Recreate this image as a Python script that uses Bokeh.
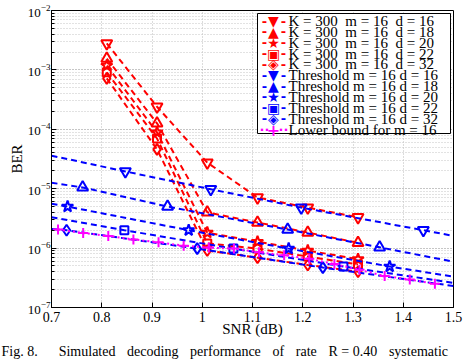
from bokeh.plotting import figure
from bokeh.models import FixedTicker, LogTicker, Label, BoxAnnotation, Title
from bokeh.embed import file_html
from bokeh.resources import INLINE

# ---------------- data ----------------
snr_k = [0.81, 0.91, 1.01, 1.11, 1.21, 1.31]
ber_k_d16 = [2.8e-3, 2.4e-4, 2.75e-5, 7.1e-6, 4.8e-6, 3.3e-6]
ber_k_d18 = [1.55e-3, 1.26e-4, 4.0e-6, 2.7e-6, 1.83e-6, 1.23e-6]
ber_k_d20 = [1.18e-3, 8.9e-5, 1.82e-6, 1.28e-6, 9.1e-7, 6.5e-7]
ber_k_d22 = [9.1e-4, 7.0e-5, 1.2e-6, 9.8e-7, 7.2e-7, 5.3e-7]
ber_k_d32 = [7.2e-4, 4.6e-5, 9.1e-7, 6.9e-7, 5.2e-7, 4.0e-7]

# threshold curves (first and last points are the line ends, markers in between)
thr_d16_snr = [0.70, 0.847, 1.017, 1.197, 1.44, 1.50]
thr_d16_ber = [3.6e-5, 1.95e-5, 9.8e-6, 4.8e-6, 2.0e-6, 1.6e-6]
thr_d18_snr = [0.70, 0.762, 0.931, 1.17, 1.353, 1.50]
thr_d18_ber = [1.26e-5, 1.05e-5, 5.0e-6, 2.05e-6, 1.03e-6, 5.9e-7]
thr_d20_snr = [0.70, 0.732, 0.973, 1.172, 1.373, 1.50]
thr_d20_ber = [5.6e-6, 5.0e-6, 2.0e-6, 9.8e-7, 4.9e-7, 3.3e-7]
thr_d22_snr = [0.70, 0.845, 1.062, 1.281, 1.50]
thr_d22_ber = [3.3e-6, 2.0e-6, 9.8e-7, 4.9e-7, 2.6e-7]
thr_d32_snr = [0.70, 0.73, 0.99, 1.24, 1.50]
thr_d32_ber = [2.1e-6, 2.0e-6, 9.8e-7, 4.7e-7, 2.3e-7]

lb_snr = [0.713, 0.763, 0.813, 0.863, 0.913, 0.963, 1.013, 1.063,
          1.113, 1.163, 1.213, 1.263, 1.313, 1.363, 1.413, 1.463]
lb_ber = [2.05e-6, 1.8e-6, 1.6e-6, 1.4e-6, 1.25e-6, 1.1e-6, 1.02e-6, 9.8e-7,
          8.5e-7, 7.6e-7, 6.6e-7, 5.4e-7, 4.3e-7, 3.4e-7, 2.95e-7, 2.5e-7]

x_ticks = [0.7, 0.8, 0.9, 1.0, 1.1, 1.2, 1.3, 1.4, 1.5]
x_tick_labels = ["0.7", "0.8", "0.9", "1", "1.1", "1.2", "1.3", "1.4", "1.5"]

labels_k = ["K = 300\u2002m = 16\u2002d = 16", "K = 300\u2002m = 16\u2002d = 18",
            "K = 300\u2002m = 16\u2002d = 20", "K = 300\u2002m = 16\u2002d = 22",
            "K = 300\u2002m = 16\u2002d = 32"]
labels_thr = ["Threshold m = 16 d = 16", "Threshold m = 16 d = 18", "Threshold m = 16 d = 20",
              "Threshold m = 16 d = 22", "Threshold m = 16 d = 32"]
label_lb = "Lower bound for m = 16"
GAP = "\u2002\u2004"
caption = ("Fig. 8.\u2003\u2002Simulated" + GAP + "decoding" + GAP + "performance" + GAP +
           "of" + GAP + "rate" + GAP + "R = 0.40" + GAP + "systematic")

# ---------------- figure ----------------
FONT = "Liberation Serif"
p = figure(width=474, height=361, y_axis_type="log",
           x_range=(0.7, 1.5), y_range=(1e-7, 1e-2),
           output_backend="svg", toolbar_location=None,
           min_border_left=51, min_border_right=21, min_border_top=10, min_border_bottom=54,
           background_fill_color="white", border_fill_color="white")
p.outline_line_color = "black"
p.outline_line_width = 1

p.xaxis.ticker = FixedTicker(ticks=x_ticks)
p.xaxis.major_label_overrides = {t: l for t, l in zip(x_ticks, x_tick_labels)}
p.yaxis.ticker = LogTicker(num_minor_ticks=10)

for ax in (p.xaxis, p.yaxis):
    ax.major_label_text_font = FONT
    ax.major_label_text_font_size = "14px"
    ax.major_label_text_color = "black"
    ax.axis_label_text_font = FONT
    ax.axis_label_text_font_size = "15px"
    ax.axis_label_text_font_style = "normal"
    ax.axis_label_text_color = "black"
    ax.major_tick_in = 5
    ax.major_tick_out = 0
    ax.minor_tick_in = 3
    ax.minor_tick_out = 0
    ax.axis_line_color = "black"
p.yaxis.major_label_text_font_size = "13px"
p.yaxis.major_label_standoff = 1
p.yaxis.axis_label_standoff = 0
p.xaxis.major_label_standoff = 4
p.xaxis.axis_label_standoff = -4
p.xaxis.axis_label = "SNR (dB)"
p.yaxis.axis_label = "BER"

p.xgrid.grid_line_color = "#b8b8b8"
p.xgrid.grid_line_dash = "1 2"
p.ygrid.grid_line_color = "#b8b8b8"
p.ygrid.grid_line_dash = "1 2"
p.ygrid.minor_grid_line_color = "#c4c4c4"
p.ygrid.minor_grid_line_dash = "1 2"

RED, BLUE, MAG = "#ff0000", "#0000ff", "#ff00ff"
markers = ["inverted_triangle", "triangle", "star", "square", "diamond"]
msizes = [11, 11, 12, 8, 11]

k_series = [ber_k_d16, ber_k_d18, ber_k_d20, ber_k_d22, ber_k_d32]
for ys, mk, ms in zip(k_series, markers, msizes):
    p.line(snr_k, ys, line_color=RED, line_width=2, line_dash="6 4")
    p.scatter(snr_k, ys, marker=mk, size=ms, line_color=RED, line_width=2, fill_color=None)

thr = [(thr_d16_snr, thr_d16_ber), (thr_d18_snr, thr_d18_ber), (thr_d20_snr, thr_d20_ber),
       (thr_d22_snr, thr_d22_ber), (thr_d32_snr, thr_d32_ber)]
for (xs, ys), mk, ms in zip(thr, markers, msizes):
    p.line(xs, ys, line_color=BLUE, line_width=2, line_dash="6 4")
    p.scatter(xs[1:-1], ys[1:-1], marker=mk, size=ms, line_color=BLUE, line_width=2,
              fill_color=None)

p.line(lb_snr, lb_ber, line_color=MAG, line_width=2, line_dash="2 3")
p.scatter(lb_snr, lb_ber, marker="cross", size=10, line_color=MAG, line_width=2)

# ---------------- legend (drawn as annotations, screen units relative to the frame) ----
LEG_L, LEG_R, LEG_T, LEG_B = 206, 399, 294, 174
ROW0, PITCH = 286.5, 10.85
GLYPH_X, DASH_L, DASH_R, TEXT_X = 222, 213, 232, 237
p.add_layout(BoxAnnotation(left=LEG_L, right=LEG_R, top=LEG_T, bottom=LEG_B,
                           left_units="screen", right_units="screen",
                           top_units="screen", bottom_units="screen",
                           fill_color="white", fill_alpha=1.0,
                           line_color="black", line_width=1, line_alpha=1.0,
                           level="overlay"))
glyph_chars = ["\u25BC", "\u25B2", "\u2605", "\u25A3", "\u25C8"]
rows = ([(RED, g, t, "-") for g, t in zip(glyph_chars, labels_k)] +
        [(BLUE, g, t, "-") for g, t in zip(glyph_chars, labels_thr)] +
        [(MAG, "+", label_lb, "\u00B7\u00B7")])
for i, (col, g, t, dash) in enumerate(rows):
    yy = ROW0 - PITCH * i
    for dx in (DASH_L, DASH_R):
        p.add_layout(Label(x=dx, y=yy, x_units="screen", y_units="screen", text=dash,
                           text_font="DejaVu Sans", text_font_style="bold",
                           text_font_size="13px", text_color=col,
                           text_align="center", text_baseline="middle", level="overlay"))
    p.add_layout(Label(x=GLYPH_X, y=yy, x_units="screen", y_units="screen", text=g,
                       text_font="DejaVu Sans", text_font_style="bold",
                       text_font_size="14px" if g != "+" else "16px", text_color=col,
                       text_align="center", text_baseline="middle", level="overlay"))
    p.add_layout(Label(x=TEXT_X, y=yy, x_units="screen", y_units="screen", text=t,
                       text_font=FONT, text_font_size="15px", text_color="black",
                       text_align="left", text_baseline="middle", level="overlay"))

# ---------------- caption below the axes ----
p.add_layout(Title(text=caption, align="left", offset=-50, standoff=4,
                   text_font=FONT, text_font_size="14px", text_font_style="normal",
                   text_color="black"), "below")

open("out.html", "w").write(file_html(p, INLINE))
